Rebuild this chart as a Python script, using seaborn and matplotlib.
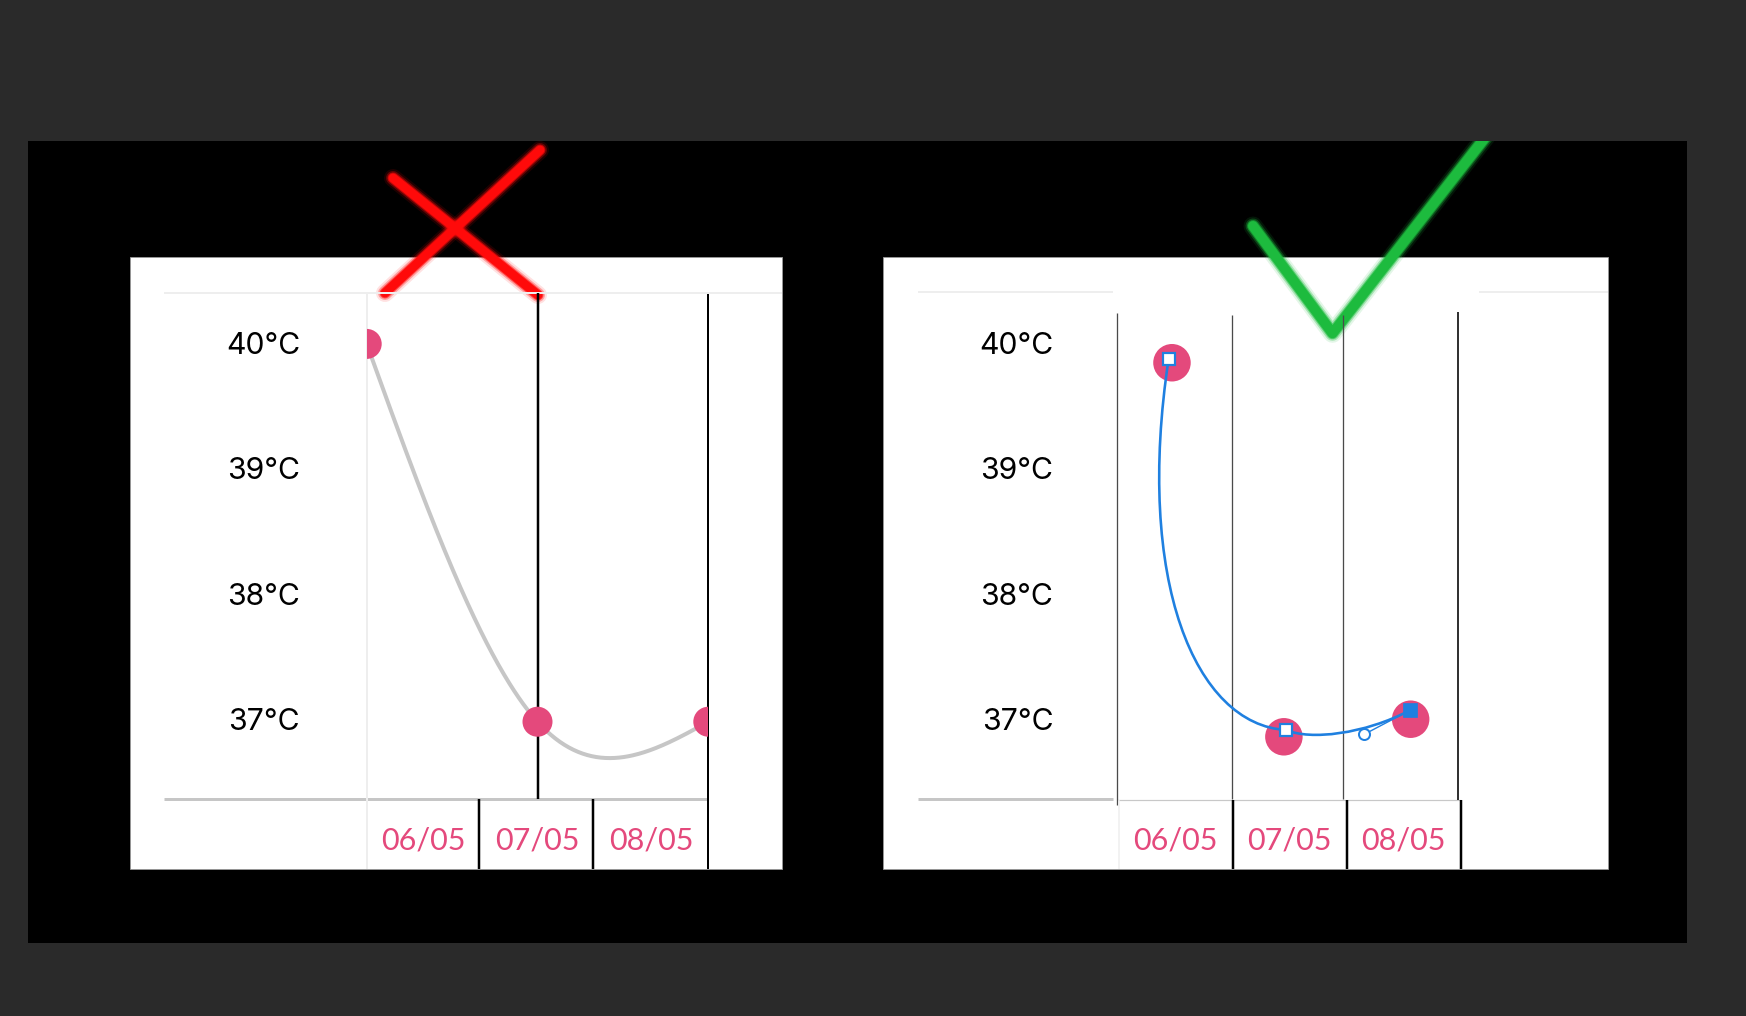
import numpy as np
import matplotlib
matplotlib.use("Agg")
import matplotlib.pyplot as plt
from matplotlib.patches import Rectangle, PathPatch
from matplotlib.path import Path
import seaborn as sns

# ---------------- data ----------------
dates = ["06/05", "07/05", "08/05"]
ytick_values = [37, 38, 39, 40]
ytick_labels = ["37°C", "38°C", "39°C", "40°C"]
left_temps = [39.99, 36.98, 36.98]
right_temps = [39.84, 36.86, 37.00]
right_dot_x = [-0.03, 0.95, 2.06]
# right chart: hand-edited bezier path (anchor, ctrl, ctrl, anchor, ctrl, ctrl, anchor)
path_x = [-0.059, -0.354, 0.172, 0.971, 1.179, 1.654, 2.054]
path_y = [39.873, 38.108, 36.954, 36.914, 36.831, 36.880, 37.071]

# ---------------- styling ----------------
W, H, DPI = 1746, 1016, 100
PT = 72 / DPI
PINK = "#e4497c"
BLUE = "#1f80e0"
GRAY_CURVE = "#c6c6c6"
LIGHT = "#eeeeee"
plt.rcParams["font.family"] = ["Inter", "DejaVu Sans"]

fig = plt.figure(figsize=(W / DPI, H / DPI), dpi=DPI, facecolor="#2a2a2a")
bg = fig.add_axes([0, 0, 1, 1])
bg.set_xlim(0, W)
bg.set_ylim(H, 0)
bg.axis("off")


def rect(x0, y0, x1, y1, fc, ec="none", lw=0.0, z=1):
    r = Rectangle((x0, y0), x1 - x0, y1 - y0, facecolor=fc, edgecolor=ec,
                  linewidth=lw, zorder=z)
    bg.add_patch(r)
    return r


def seg(x0, y0, x1, y1, c, wpx, z=2):
    bg.plot([x0, x1], [y0, y1], color=c, lw=wpx * PT, solid_capstyle="butt", zorder=z)


def blurred(xs, ys, color, core_px, clip=None):
    for w, a in [(core_px + 9, 0.12), (core_px + 5, 0.3), (core_px + 2, 0.6), (core_px, 1.0)]:
        ln, = bg.plot(xs, ys, color=color, lw=w * PT, alpha=a,
                      solid_capstyle="round", solid_joinstyle="round", zorder=1.5)
        if clip is not None:
            ln.set_clip_path(clip)


black = rect(28, 141, 1686.7, 942.7, "black")
rect(130, 256.7, 781.7, 869.3, "white", "#9a9a9a", 0.6)
rect(883.3, 256.7, 1608.3, 869.3, "white", "#9a9a9a", 0.6)

# ---- left panel frame lines ----
seg(164, 292.7, 781.7, 292.7, LIGHT, 2)
seg(164, 799.3, 708.3, 799.3, "#c6c6c6", 3)
seg(366.7, 292.7, 366.7, 869.3, LIGHT, 2)
seg(537.7, 293, 537.7, 799.3, "black", 2.5)
seg(708.3, 294, 708.3, 869.3, "black", 2)
seg(479.3, 799.3, 479.3, 869.3, "black", 2.5)
seg(593.3, 799.3, 593.3, 869.3, "black", 2.5)

# ---- right panel frame lines ----
seg(917.7, 292.3, 1112.7, 292.3, LIGHT, 2)
seg(1479.3, 292.3, 1608.3, 292.3, LIGHT, 2)
seg(917.7, 799.3, 1112.7, 799.3, "#c6c6c6", 3)
seg(1117.3, 800, 1461, 800, "#c8c8c8", 1.2)
seg(1117.3, 312.7, 1117.3, 805, "#4a4a4a", 1.3)
seg(1232.3, 315, 1232.3, 799.3, "#4a4a4a", 1.3)
seg(1342.5, 315, 1342.5, 799.3, "#4a4a4a", 1.3)
seg(1458.3, 312.3, 1458.3, 800, "black", 1.6)
seg(1118.7, 800, 1118.7, 869.3, LIGHT, 1.5)
seg(1232.7, 800, 1232.7, 869.3, "black", 2.5)
seg(1346.7, 800, 1346.7, 869.3, "black", 2.5)
seg(1461, 800, 1461, 869.3, "black", 2.5)

# ---- red cross and green check ----
blurred([393, 538], [178, 295], "#ff0a0a", 9)
blurred([385, 540], [293, 150], "#ff0a0a", 9)
blurred([1253, 1332.5, 1505], [226, 333.3, 112], "#1dbb3e", 10, clip=black)

# ---------------- data axes ----------------
YLIM = (36.362, 40.398)
axL = fig.add_axes([366.7 / W, 1 - 799.3 / H, (708.3 - 366.7) / W, 506.6 / H])
axR = fig.add_axes([1118.3 / W, 1 - 799.3 / H, (1460.9 - 1118.3) / W, 506.6 / H])
for ax in (axL, axR):
    ax.patch.set_alpha(0)
    for s in ax.spines.values():
        s.set_visible(False)
    ax.set_ylim(*YLIM)
axL.set_xlim(0, 2)
axR.set_xlim(-0.5, 2.5)


def natural_spline(x, y, n=300):
    x = np.asarray(x, float)
    y = np.asarray(y, float)
    k = len(x)
    h = np.diff(x)
    A = np.zeros((k, k))
    b = np.zeros(k)
    A[0, 0] = A[-1, -1] = 1
    for i in range(1, k - 1):
        A[i, i - 1] = h[i - 1]
        A[i, i] = 2 * (h[i - 1] + h[i])
        A[i, i + 1] = h[i]
        b[i] = 6 * ((y[i + 1] - y[i]) / h[i] - (y[i] - y[i - 1]) / h[i - 1])
    M = np.linalg.solve(A, b)
    xs = np.linspace(x[0], x[-1], n)
    ys = np.empty_like(xs)
    for j, t in enumerate(xs):
        i = min(max(np.searchsorted(x, t, side="right") - 1, 0), k - 2)
        a = x[i + 1] - t
        c = t - x[i]
        ys[j] = ((M[i] * a ** 3 + M[i + 1] * c ** 3) / (6 * h[i])
                 + (y[i] / h[i] - M[i] * h[i] / 6) * a
                 + (y[i + 1] / h[i] - M[i + 1] * h[i] / 6) * c)
    return xs, ys


# left chart: smooth line through the points
idx = np.arange(len(dates))
sx, sy = natural_spline(idx, left_temps)
sns.lineplot(x=sx, y=sy, ax=axL, color=GRAY_CURVE, lw=4.0 * PT, sort=False,
             estimator=None, zorder=2)
sns.scatterplot(x=idx, y=left_temps, ax=axL, s=(30 * PT) ** 2, color=PINK,
                edgecolor="none", linewidth=0, zorder=3)

# right chart
sns.scatterplot(x=right_dot_x, y=right_temps, ax=axR, s=(37.5 * PT) ** 2, color=PINK,
                edgecolor="none", linewidth=0, zorder=3)
verts = list(zip(path_x, path_y))
codes = [Path.MOVETO] + [Path.CURVE4] * 6
axR.add_patch(PathPatch(Path(verts, codes), facecolor="none", edgecolor=BLUE,
                        lw=2.6 * PT, zorder=4))
axR.plot([path_x[5], path_x[6]], [path_y[5], path_y[6]], color=BLUE, lw=1.0, zorder=4)
axR.plot([path_x[0], path_x[3]], [path_y[0], path_y[3]], ls="none", marker="s",
         ms=12.5 * PT, mfc="white", mec=BLUE, mew=2.2 * PT, zorder=5)
axR.plot([path_x[6]], [path_y[6]], ls="none", marker="s", ms=14 * PT, mfc=BLUE,
         mec=BLUE, mew=0.5, zorder=5)
axR.plot([path_x[5]], [path_y[5]], ls="none", marker="o", ms=11 * PT, mfc="white",
         mec=BLUE, mew=2 * PT, zorder=5)

# ticks
axL.set_xticks([(i + 0.5) * 2 / 3 for i in idx], dates)
axR.set_xticks(idx, dates)
for ax, pad in ((axL, 66.7), (axR, 65.0)):
    ax.set_yticks(ytick_values, ytick_labels)
    ax.tick_params(axis="y", length=0, pad=pad * PT, labelsize=30.2 * PT,
                   labelcolor="black")
    ax.tick_params(axis="x", length=0, pad=27 * PT, labelsize=30.5 * PT,
                   labelcolor=PINK)
    for lbl in ax.get_xticklabels():
        lbl.set_fontfamily(["Lato", "DejaVu Sans"])
    for lbl in ax.get_yticklabels():
        lbl.set_y(lbl.get_position()[1])
    ax.set_xlabel("")
    ax.set_ylabel("")
    if ax.get_legend():
        ax.get_legend().remove()

fig.savefig("out.png", dpi=DPI, facecolor=fig.get_facecolor())
